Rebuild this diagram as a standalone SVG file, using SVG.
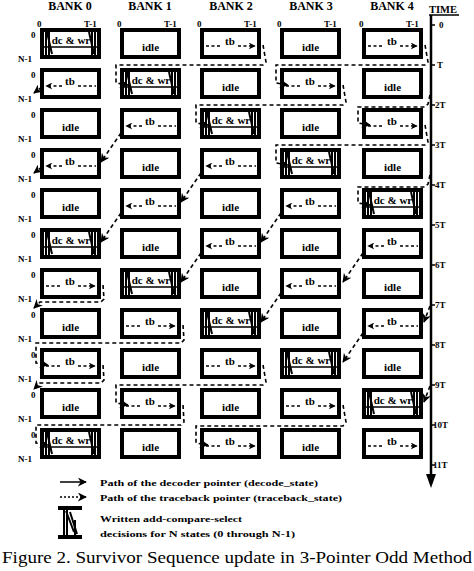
<svg xmlns="http://www.w3.org/2000/svg" width="474" height="571" viewBox="0 0 474 571">
<defs>
<marker id="ah" viewBox="0 0 10 10" refX="9" refY="5" markerWidth="7" markerHeight="7" markerUnits="userSpaceOnUse" orient="auto"><path d="M0,0 L10,5 L0,10 L3,5 z" fill="#000"/></marker>
<marker id="ahl" viewBox="0 0 10 10" refX="9" refY="5" markerWidth="9" markerHeight="9" markerUnits="userSpaceOnUse" orient="auto"><path d="M0,0 L10,5 L0,10 L3,5 z" fill="#000"/></marker>
</defs>
<style>
.bx{fill:#fff;stroke:#000;stroke-width:4}
.t{font-family:"Liberation Serif",serif;font-weight:bold;font-size:10.5px;fill:#000}
.lb{font-family:"Liberation Serif",serif;font-weight:bold;font-size:11px;fill:#000;text-anchor:middle}
.hd{font-family:"Liberation Serif",serif;font-weight:bold;font-size:12px;fill:#000;text-anchor:middle}
.sm{font-family:"Liberation Serif",serif;font-weight:bold;font-size:9px;fill:#000}
.dd{fill:none;stroke:#000;stroke-width:1.5;stroke-dasharray:3 2.5}
.cn{fill:none;stroke:#000;stroke-width:1.6;stroke-dasharray:4 3}
.ln{fill:none;stroke:#000;stroke-width:1.5}
.acs{fill:none;stroke:#000;stroke-width:2}
.ax{fill:none;stroke:#000;stroke-width:2.5}
</style>
<rect width="474" height="571" fill="#fff"/>

<g id="headers">
<text class="hd" x="70" y="10">BANK 0</text>
<text class="hd" x="150" y="10">BANK 1</text>
<text class="hd" x="231" y="10">BANK 2</text>
<text class="hd" x="311" y="10">BANK 3</text>
<text class="hd" x="392" y="10">BANK 4</text>
<text class="sm" x="37" y="27">0</text><text class="sm" x="84" y="27">T-1</text>
<text class="sm" x="117" y="27">0</text><text class="sm" x="164" y="27">T-1</text>
<text class="sm" x="197" y="27">0</text><text class="sm" x="244" y="27">T-1</text>
<text class="sm" x="277" y="27">0</text><text class="sm" x="324" y="27">T-1</text>
<text class="sm" x="359" y="27">0</text><text class="sm" x="406" y="27">T-1</text>
</g>

<g id="rowlabels">
<text class="sm" x="31" y="38">0</text><text class="sm" x="18" y="62">N-1</text>
<text class="sm" x="31" y="78">0</text><text class="sm" x="18" y="102">N-1</text>
<text class="sm" x="31" y="118">0</text><text class="sm" x="18" y="142">N-1</text>
<text class="sm" x="31" y="158">0</text><text class="sm" x="18" y="182">N-1</text>
<text class="sm" x="31" y="198">0</text><text class="sm" x="18" y="222">N-1</text>
<text class="sm" x="31" y="238">0</text><text class="sm" x="18" y="262">N-1</text>
<text class="sm" x="31" y="278">0</text><text class="sm" x="18" y="302">N-1</text>
<text class="sm" x="31" y="318">0</text><text class="sm" x="18" y="342">N-1</text>
<text class="sm" x="31" y="358">0</text><text class="sm" x="18" y="382">N-1</text>
<text class="sm" x="31" y="398">0</text><text class="sm" x="18" y="422">N-1</text>
<text class="sm" x="31" y="438">0</text><text class="sm" x="18" y="462">N-1</text>
</g>

<!-- row 0 -->
<g id="b0r0" transform="translate(40,28)"><rect class="bx" x="2" y="2" width="57" height="27"/><text class="lb" x="31" y="16">dc &amp; wr</text><line class="ln" x1="4" y1="19" x2="57" y2="19"/><path class="acs" d="M6 3V28M9 3V28M7 4L12 26M52 3V28M55 3V28M49 4L54 26"/></g>
<g id="b1r0" transform="translate(120,28)"><rect class="bx" x="2" y="2" width="57" height="27"/><text class="lb" x="30.5" y="23">idle</text></g>
<g id="b2r0" transform="translate(200,28)"><rect class="bx" x="2" y="2" width="57" height="27"/><line class="dd" x1="6" y1="18" x2="22" y2="18"/><text class="lb" x="30" y="17">tb</text><line class="dd" x1="38" y1="18" x2="55" y2="18" marker-end="url(#ah)"/></g>
<g id="b3r0" transform="translate(280,28)"><rect class="bx" x="2" y="2" width="57" height="27"/><text class="lb" x="30.5" y="23">idle</text></g>
<g id="b4r0" transform="translate(362,28)"><rect class="bx" x="2" y="2" width="57" height="27"/><line class="dd" x1="6" y1="18" x2="22" y2="18"/><text class="lb" x="30" y="17">tb</text><line class="dd" x1="38" y1="18" x2="55" y2="18" marker-end="url(#ah)"/></g>
<!-- row 1 -->
<g id="b0r1" transform="translate(40,68)"><rect class="bx" x="2" y="2" width="57" height="27"/><line class="dd" x1="22" y1="18" x2="6" y2="18" marker-end="url(#ah)"/><text class="lb" x="30" y="17">tb</text><line class="dd" x1="38" y1="18" x2="56" y2="18"/></g>
<g id="b1r1" transform="translate(120,68)"><rect class="bx" x="2" y="2" width="57" height="27"/><text class="lb" x="31" y="16">dc &amp; wr</text><line class="ln" x1="4" y1="19" x2="57" y2="19"/><path class="acs" d="M6 3V28M9 3V28M7 4L12 26M52 3V28M55 3V28M49 4L54 26"/></g>
<g id="b2r1" transform="translate(200,68)"><rect class="bx" x="2" y="2" width="57" height="27"/><text class="lb" x="30.5" y="23">idle</text></g>
<g id="b3r1" transform="translate(280,68)"><rect class="bx" x="2" y="2" width="57" height="27"/><line class="dd" x1="6" y1="18" x2="22" y2="18"/><text class="lb" x="30" y="17">tb</text><line class="dd" x1="38" y1="18" x2="55" y2="18" marker-end="url(#ah)"/></g>
<g id="b4r1" transform="translate(362,68)"><rect class="bx" x="2" y="2" width="57" height="27"/><text class="lb" x="30.5" y="23">idle</text></g>
<!-- row 2 -->
<g id="b0r2" transform="translate(40,108)"><rect class="bx" x="2" y="2" width="57" height="27"/><text class="lb" x="30.5" y="23">idle</text></g>
<g id="b1r2" transform="translate(120,108)"><rect class="bx" x="2" y="2" width="57" height="27"/><line class="dd" x1="22" y1="18" x2="6" y2="18" marker-end="url(#ah)"/><text class="lb" x="30" y="17">tb</text><line class="dd" x1="38" y1="18" x2="56" y2="18"/></g>
<g id="b2r2" transform="translate(200,108)"><rect class="bx" x="2" y="2" width="57" height="27"/><text class="lb" x="31" y="16">dc &amp; wr</text><line class="ln" x1="4" y1="19" x2="57" y2="19"/><path class="acs" d="M6 3V28M9 3V28M7 4L12 26M52 3V28M55 3V28M49 4L54 26"/></g>
<g id="b3r2" transform="translate(280,108)"><rect class="bx" x="2" y="2" width="57" height="27"/><text class="lb" x="30.5" y="23">idle</text></g>
<g id="b4r2" transform="translate(362,108)"><rect class="bx" x="2" y="2" width="57" height="27"/><line class="dd" x1="6" y1="18" x2="22" y2="18"/><text class="lb" x="30" y="17">tb</text><line class="dd" x1="38" y1="18" x2="55" y2="18" marker-end="url(#ah)"/></g>
<!-- row 3 -->
<g id="b0r3" transform="translate(40,148)"><rect class="bx" x="2" y="2" width="57" height="27"/><line class="dd" x1="22" y1="18" x2="6" y2="18" marker-end="url(#ah)"/><text class="lb" x="30" y="17">tb</text><line class="dd" x1="38" y1="18" x2="56" y2="18"/></g>
<g id="b1r3" transform="translate(120,148)"><rect class="bx" x="2" y="2" width="57" height="27"/><text class="lb" x="30.5" y="23">idle</text></g>
<g id="b2r3" transform="translate(200,148)"><rect class="bx" x="2" y="2" width="57" height="27"/><line class="dd" x1="22" y1="18" x2="6" y2="18" marker-end="url(#ah)"/><text class="lb" x="30" y="17">tb</text><line class="dd" x1="38" y1="18" x2="56" y2="18"/></g>
<g id="b3r3" transform="translate(280,148)"><rect class="bx" x="2" y="2" width="57" height="27"/><text class="lb" x="31" y="16">dc &amp; wr</text><line class="ln" x1="4" y1="19" x2="57" y2="19"/><path class="acs" d="M6 3V28M9 3V28M7 4L12 26M52 3V28M55 3V28M49 4L54 26"/></g>
<g id="b4r3" transform="translate(362,148)"><rect class="bx" x="2" y="2" width="57" height="27"/><text class="lb" x="30.5" y="23">idle</text></g>
<!-- row 4 -->
<g id="b0r4" transform="translate(40,188)"><rect class="bx" x="2" y="2" width="57" height="27"/><text class="lb" x="30.5" y="23">idle</text></g>
<g id="b1r4" transform="translate(120,188)"><rect class="bx" x="2" y="2" width="57" height="27"/><line class="dd" x1="22" y1="18" x2="6" y2="18" marker-end="url(#ah)"/><text class="lb" x="30" y="17">tb</text><line class="dd" x1="38" y1="18" x2="56" y2="18"/></g>
<g id="b2r4" transform="translate(200,188)"><rect class="bx" x="2" y="2" width="57" height="27"/><text class="lb" x="30.5" y="23">idle</text></g>
<g id="b3r4" transform="translate(280,188)"><rect class="bx" x="2" y="2" width="57" height="27"/><line class="dd" x1="22" y1="18" x2="6" y2="18" marker-end="url(#ah)"/><text class="lb" x="30" y="17">tb</text><line class="dd" x1="38" y1="18" x2="56" y2="18"/></g>
<g id="b4r4" transform="translate(362,188)"><rect class="bx" x="2" y="2" width="57" height="27"/><text class="lb" x="31" y="16">dc &amp; wr</text><line class="ln" x1="4" y1="19" x2="57" y2="19"/><path class="acs" d="M6 3V28M9 3V28M7 4L12 26M52 3V28M55 3V28M49 4L54 26"/></g>
<!-- row 5 -->
<g id="b0r5" transform="translate(40,228)"><rect class="bx" x="2" y="2" width="57" height="27"/><text class="lb" x="31" y="16">dc &amp; wr</text><line class="ln" x1="4" y1="19" x2="57" y2="19"/><path class="acs" d="M6 3V28M9 3V28M7 4L12 26M52 3V28M55 3V28M49 4L54 26"/></g>
<g id="b1r5" transform="translate(120,228)"><rect class="bx" x="2" y="2" width="57" height="27"/><text class="lb" x="30.5" y="23">idle</text></g>
<g id="b2r5" transform="translate(200,228)"><rect class="bx" x="2" y="2" width="57" height="27"/><line class="dd" x1="22" y1="18" x2="6" y2="18" marker-end="url(#ah)"/><text class="lb" x="30" y="17">tb</text><line class="dd" x1="38" y1="18" x2="56" y2="18"/></g>
<g id="b3r5" transform="translate(280,228)"><rect class="bx" x="2" y="2" width="57" height="27"/><text class="lb" x="30.5" y="23">idle</text></g>
<g id="b4r5" transform="translate(362,228)"><rect class="bx" x="2" y="2" width="57" height="27"/><line class="dd" x1="22" y1="18" x2="6" y2="18" marker-end="url(#ah)"/><text class="lb" x="30" y="17">tb</text><line class="dd" x1="38" y1="18" x2="56" y2="18"/></g>
<!-- row 6 -->
<g id="b0r6" transform="translate(40,268)"><rect class="bx" x="2" y="2" width="57" height="27"/><line class="dd" x1="6" y1="18" x2="22" y2="18"/><text class="lb" x="30" y="17">tb</text><line class="dd" x1="38" y1="18" x2="55" y2="18" marker-end="url(#ah)"/></g>
<g id="b1r6" transform="translate(120,268)"><rect class="bx" x="2" y="2" width="57" height="27"/><text class="lb" x="31" y="16">dc &amp; wr</text><line class="ln" x1="4" y1="19" x2="57" y2="19"/><path class="acs" d="M6 3V28M9 3V28M7 4L12 26M52 3V28M55 3V28M49 4L54 26"/></g>
<g id="b2r6" transform="translate(200,268)"><rect class="bx" x="2" y="2" width="57" height="27"/><text class="lb" x="30.5" y="23">idle</text></g>
<g id="b3r6" transform="translate(280,268)"><rect class="bx" x="2" y="2" width="57" height="27"/><line class="dd" x1="22" y1="18" x2="6" y2="18" marker-end="url(#ah)"/><text class="lb" x="30" y="17">tb</text><line class="dd" x1="38" y1="18" x2="56" y2="18"/></g>
<g id="b4r6" transform="translate(362,268)"><rect class="bx" x="2" y="2" width="57" height="27"/><text class="lb" x="30.5" y="23">idle</text></g>
<!-- row 7 -->
<g id="b0r7" transform="translate(40,308)"><rect class="bx" x="2" y="2" width="57" height="27"/><text class="lb" x="30.5" y="23">idle</text></g>
<g id="b1r7" transform="translate(120,308)"><rect class="bx" x="2" y="2" width="57" height="27"/><line class="dd" x1="6" y1="18" x2="22" y2="18"/><text class="lb" x="30" y="17">tb</text><line class="dd" x1="38" y1="18" x2="55" y2="18" marker-end="url(#ah)"/></g>
<g id="b2r7" transform="translate(200,308)"><rect class="bx" x="2" y="2" width="57" height="27"/><text class="lb" x="31" y="16">dc &amp; wr</text><line class="ln" x1="4" y1="19" x2="57" y2="19"/><path class="acs" d="M6 3V28M9 3V28M7 4L12 26M52 3V28M55 3V28M49 4L54 26"/></g>
<g id="b3r7" transform="translate(280,308)"><rect class="bx" x="2" y="2" width="57" height="27"/><text class="lb" x="30.5" y="23">idle</text></g>
<g id="b4r7" transform="translate(362,308)"><rect class="bx" x="2" y="2" width="57" height="27"/><line class="dd" x1="22" y1="18" x2="6" y2="18" marker-end="url(#ah)"/><text class="lb" x="30" y="17">tb</text><line class="dd" x1="38" y1="18" x2="56" y2="18"/></g>
<!-- row 8 -->
<g id="b0r8" transform="translate(40,348)"><rect class="bx" x="2" y="2" width="57" height="27"/><line class="dd" x1="6" y1="18" x2="22" y2="18"/><text class="lb" x="30" y="17">tb</text><line class="dd" x1="38" y1="18" x2="55" y2="18" marker-end="url(#ah)"/></g>
<g id="b1r8" transform="translate(120,348)"><rect class="bx" x="2" y="2" width="57" height="27"/><text class="lb" x="30.5" y="23">idle</text></g>
<g id="b2r8" transform="translate(200,348)"><rect class="bx" x="2" y="2" width="57" height="27"/><line class="dd" x1="6" y1="18" x2="22" y2="18"/><text class="lb" x="30" y="17">tb</text><line class="dd" x1="38" y1="18" x2="55" y2="18" marker-end="url(#ah)"/></g>
<g id="b3r8" transform="translate(280,348)"><rect class="bx" x="2" y="2" width="57" height="27"/><text class="lb" x="31" y="16">dc &amp; wr</text><line class="ln" x1="4" y1="19" x2="57" y2="19"/><path class="acs" d="M6 3V28M9 3V28M7 4L12 26M52 3V28M55 3V28M49 4L54 26"/></g>
<g id="b4r8" transform="translate(362,348)"><rect class="bx" x="2" y="2" width="57" height="27"/><text class="lb" x="30.5" y="23">idle</text></g>
<!-- row 9 -->
<g id="b0r9" transform="translate(40,388)"><rect class="bx" x="2" y="2" width="57" height="27"/><text class="lb" x="30.5" y="23">idle</text></g>
<g id="b1r9" transform="translate(120,388)"><rect class="bx" x="2" y="2" width="57" height="27"/><line class="dd" x1="6" y1="18" x2="22" y2="18"/><text class="lb" x="30" y="17">tb</text><line class="dd" x1="38" y1="18" x2="55" y2="18" marker-end="url(#ah)"/></g>
<g id="b2r9" transform="translate(200,388)"><rect class="bx" x="2" y="2" width="57" height="27"/><text class="lb" x="30.5" y="23">idle</text></g>
<g id="b3r9" transform="translate(280,388)"><rect class="bx" x="2" y="2" width="57" height="27"/><line class="dd" x1="6" y1="18" x2="22" y2="18"/><text class="lb" x="30" y="17">tb</text><line class="dd" x1="38" y1="18" x2="55" y2="18" marker-end="url(#ah)"/></g>
<g id="b4r9" transform="translate(362,388)"><rect class="bx" x="2" y="2" width="57" height="27"/><text class="lb" x="31" y="16">dc &amp; wr</text><line class="ln" x1="4" y1="19" x2="57" y2="19"/><path class="acs" d="M6 3V28M9 3V28M7 4L12 26M52 3V28M55 3V28M49 4L54 26"/></g>
<!-- row 10 -->
<g id="b0r10" transform="translate(40,428)"><rect class="bx" x="2" y="2" width="57" height="27"/><text class="lb" x="31" y="16">dc &amp; wr</text><line class="ln" x1="4" y1="19" x2="57" y2="19"/><path class="acs" d="M6 3V28M9 3V28M7 4L12 26M52 3V28M55 3V28M49 4L54 26"/></g>
<g id="b1r10" transform="translate(120,428)"><rect class="bx" x="2" y="2" width="57" height="27"/><text class="lb" x="30.5" y="23">idle</text></g>
<g id="b2r10" transform="translate(200,428)"><rect class="bx" x="2" y="2" width="57" height="27"/><line class="dd" x1="6" y1="18" x2="22" y2="18"/><text class="lb" x="30" y="17">tb</text><line class="dd" x1="38" y1="18" x2="55" y2="18" marker-end="url(#ah)"/></g>
<g id="b3r10" transform="translate(280,428)"><rect class="bx" x="2" y="2" width="57" height="27"/><text class="lb" x="30.5" y="23">idle</text></g>
<g id="b4r10" transform="translate(362,428)"><rect class="bx" x="2" y="2" width="57" height="27"/><line class="dd" x1="6" y1="18" x2="22" y2="18"/><text class="lb" x="30" y="17">tb</text><line class="dd" x1="38" y1="18" x2="55" y2="18" marker-end="url(#ah)"/></g>

<g id="connectors">
<path class="cn" d="M263 45 L266 62 L263 65 L116 65 L116 83 L128 85" marker-end="url(#ahl)"/>
<path class="cn" d="M425 45 L428 62 L425 65 L276 65 L276 83 L288 85" marker-end="url(#ahl)"/>
<path class="cn" d="M343 85 L346 102 L343 105 L196 105 L196 123 L208 125" marker-end="url(#ahl)"/>
<path class="cn" d="M430 95 L428 104 L425 107 L358 107 L358 123 L370 125" marker-end="url(#ahl)"/>
<path class="cn" d="M425 125 L428 142 L425 145 L276 145 L276 163 L288 165" marker-end="url(#ahl)"/>
<path class="cn" d="M430 175 L428 184 L425 187 L358 187 L358 203 L370 205" marker-end="url(#ahl)"/>
<path class="cn" d="M103 285 L104 299 L101 302 L40 302 L34 308" marker-end="url(#ahl)"/>
<path class="cn" d="M183 325 L184 340 L181 343 L36 343 L36 363 L48 365" marker-end="url(#ahl)"/>
<path class="cn" d="M103 365 L104 380 L101 383 L40 383 L34 389" marker-end="url(#ahl)"/>
<path class="cn" d="M263 365 L266 382 L263 385 L116 385 L116 403 L128 405" marker-end="url(#ahl)"/>
<path class="cn" d="M183 405 L184 422 L181 425 L36 425 L36 443 L48 445" marker-end="url(#ahl)"/>
<path class="cn" d="M343 405 L346 422 L343 426 L196 426 L196 443 L208 445" marker-end="url(#ahl)"/>
<path class="cn" d="M42 87 L34 93" marker-end="url(#ahl)"/>
<path class="cn" d="M42 167 L34 173" marker-end="url(#ahl)"/>
<path class="cn" d="M121 133 L101 162" marker-end="url(#ahl)"/>
<path class="cn" d="M201 173 L181 202" marker-end="url(#ahl)"/>
<path class="cn" d="M121 213 L101 242" marker-end="url(#ahl)"/>
<path class="cn" d="M281 213 L261 242" marker-end="url(#ahl)"/>
<path class="cn" d="M201 253 L181 282" marker-end="url(#ahl)"/>
<path class="cn" d="M363 253 L343 282" marker-end="url(#ahl)"/>
<path class="cn" d="M281 293 L261 322" marker-end="url(#ahl)"/>
<path class="cn" d="M363 333 L343 362" marker-end="url(#ahl)"/>
<path class="cn" d="M430 306 L424 322" marker-end="url(#ahl)"/>
<path class="cn" d="M430 386 L424 402" marker-end="url(#ahl)"/>
</g>

<g id="timeaxis">
<text class="t" x="429" y="13" font-size="11">TIME</text>
<line class="ln" x1="429" y1="15" x2="459" y2="15"/>
<line class="ax" x1="431" y1="15" x2="431" y2="476"/>
<path d="M426 474 L436 474 L431 488 z" fill="#000"/>
<g class="ln"><path d="M431 25h4M431 65h4M431 105h4M431 145h4M431 185h4M431 225h4M431 265h4M431 305h4M431 345h4M431 385h4M431 425h4M431 465h4"/></g>
<text class="sm" x="439" y="28">0</text>
<text class="sm" x="437" y="68">T</text>
<text class="sm" x="435" y="108">2T</text>
<text class="sm" x="435" y="148">3T</text>
<text class="sm" x="435" y="188">4T</text>
<text class="sm" x="435" y="228">5T</text>
<text class="sm" x="435" y="268">6T</text>
<text class="sm" x="435" y="308">7T</text>
<text class="sm" x="435" y="348">8T</text>
<text class="sm" x="435" y="388">9T</text>
<text class="sm" x="433" y="428">10T</text>
<text class="sm" x="433" y="468">11T</text>
</g>

<g id="legend">
<line class="ln" x1="60" y1="482" x2="86" y2="482" marker-end="url(#ahl)"/>
<text class="sm" x="100" y="486" textLength="218" lengthAdjust="spacingAndGlyphs">Path of the decoder pointer (decode_state)</text>
<line x1="60" y1="497" x2="86" y2="497" stroke="#000" stroke-width="1.5" stroke-dasharray="2 2" marker-end="url(#ahl)"/>
<text class="sm" x="100" y="501" textLength="242" lengthAdjust="spacingAndGlyphs">Path of the traceback pointer (traceback_state)</text>
<rect x="58" y="506" width="24" height="4" fill="#000"/>
<rect x="58" y="535" width="24" height="4" fill="#000"/>
<path class="acs" d="M64 510V535M67 510V535M66 511L74 532M70 512L77 534M75 520L75 535"/>
<text class="sm" x="100" y="522" textLength="142" lengthAdjust="spacingAndGlyphs">Written add-compare-select</text>
<text class="sm" x="100" y="537" textLength="195" lengthAdjust="spacingAndGlyphs">decisions for N states (0 through N-1)</text>
</g>

<text x="2" y="563" font-family="Liberation Serif, serif" font-size="16" textLength="470" lengthAdjust="spacingAndGlyphs">Figure 2. Survivor Sequence update in 3-Pointer Odd Method</text>
</svg>
